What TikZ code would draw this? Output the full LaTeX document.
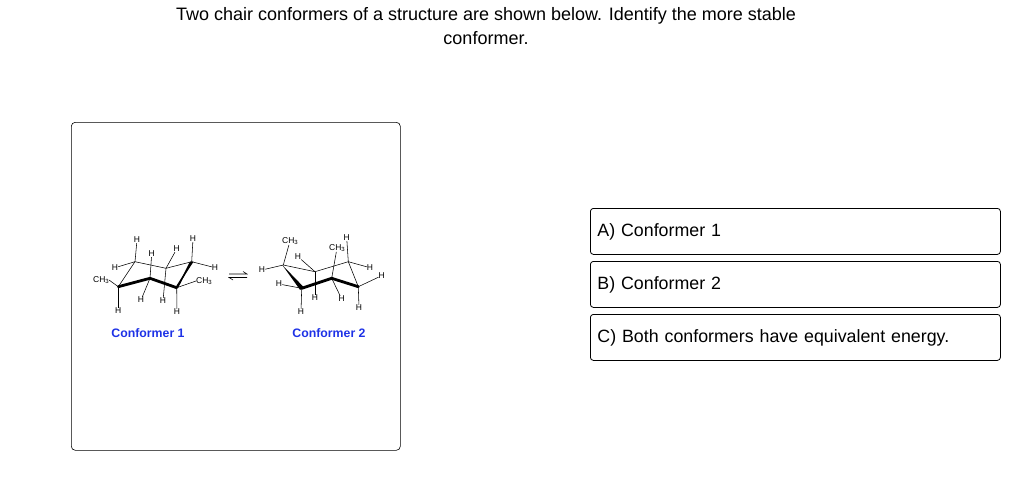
\documentclass[tikz,border=0pt]{standalone}
\usepackage{fontspec}
\setmainfont{Liberation Sans}
\begin{document}
\begin{tikzpicture}[x=1pt,y=-1pt,
  lbl/.style={font=\fontsize{8.5}{9}\selectfont,inner sep=0pt},
  bd/.style={line width=0.55pt},
  bold/.style={line width=2.8pt,line cap=round,line join=round},
  opt/.style={draw,rounded corners=3pt,line width=0.8pt,minimum width=410pt,minimum height=46pt,anchor=north west,text width=396pt,inner xsep=7pt,align=left,font=\fontsize{17.8}{20}\selectfont},
  cf/.style={font=\bfseries\fontsize{12.3}{14}\selectfont,text={rgb,255:red,30;green,50;blue,230}}]
\useasboundingbox (0,0) rectangle (1024,479);
\newcommand{\cht}{CH\raisebox{-1.5pt}{\fontsize{6}{6}\selectfont 3}}
\node[font=\fontsize{18}{24}\selectfont,align=center] (q) at (486,26) {Two chair conformers of a structure are shown below. Identify the more stable\\conformer.};
\node[draw,rounded corners=4pt,line width=0.6pt,minimum width=329pt,minimum height=328pt,anchor=north west] (box) at (71,122) {};
\node[opt] (oa) at (590,208) {A) Conformer 1};
\node[opt] (ob) at (590,261) {B) Conformer 2};
\node[opt] (oc) at (590,314) {C) Both conformers have equivalent energy.};
% conformer 1
\coordinate (c1) at (118.3,286.7); \coordinate (c2) at (150,278.3);
\coordinate (c3) at (176.7,287.7); \coordinate (c4) at (191.7,261.7);
\coordinate (c5) at (166,268.3); \coordinate (c6) at (135,261.7);
\draw[bold] (c1)--(c2)--(c3);
\fill (c3) -- ([xshift=-1.8pt]c4) -- ([xshift=1.8pt]c4) -- cycle;
\fill ([xshift=-1.5pt]c3) -- (c4) -- ([xshift=1.5pt]c3) -- cycle;
\draw[bd] (c4)--(c5)--(c6)--(c1);
\node[lbl] (h1) at (118.3,311) {H}; \node[lbl,anchor=east] (m1) at (109,280) {\cht};
\node[lbl] (h2) at (137,240) {H}; \node[lbl] (h3) at (115,267.7) {H};
\node[lbl] (h4) at (151.7,254) {H}; \node[lbl] (h5) at (141,300) {H};
\node[lbl] (h6) at (176.7,249) {H}; \node[lbl] (h7) at (163,301) {H};
\node[lbl] (h8) at (177,312) {H}; \node[lbl,anchor=west] (m2) at (196,281) {\cht};
\node[lbl] (h9) at (193,239) {H}; \node[lbl] (h10) at (215,267.7) {H};
\draw[bd] (c1)--(m1.east); \draw[bd] (c1)--(h1);
\draw[bd] (c6)--(h2); \draw[bd] (c6)--(h3);
\draw[bd] (c2)--(h4); \draw[bd] (c2)--(h5);
\draw[bd] (c5)--(h6); \draw[bd] (c5)--(h7);
\draw[bd] (c3)--(h8); \draw[bd] (c3)--(m2.west);
\draw[bd] (c4)--(h9); \draw[bd] (c4)--(h10);
% equilibrium arrows
\coordinate (e1) at (229,274); \coordinate (e2) at (247,274);
\coordinate (e3) at (229,277.5); \coordinate (e4) at (247,277.5);
\draw[bd] (e1)--(e2) -- ++(-4,-2.5);
\draw[bd] (e4)--(e3) -- ++(4,2.5);
% conformer 2
\coordinate (a) at (283.3,265); \coordinate (b) at (301.7,288.3);
\coordinate (c) at (331.7,278.3); \coordinate (d) at (358.3,286.7);
\coordinate (e) at (348.3,261.7); \coordinate (f) at (315,271.7);
\fill ([xshift=-1pt]a) -- ([xshift=-1.6pt,yshift=-1.6pt]b) -- ([xshift=2pt,yshift=1.2pt]b) -- cycle;
\draw[bold] (b)--(c)--(d);
\draw[bd] (d)--(e)--(f)--(a);
\node[lbl] (n1) at (290,241) {\cht}; \node[lbl] (n2) at (262,270) {H};
\node[lbl] (n3) at (279,284) {H}; \node[lbl] (n4) at (301,312) {H};
\node[lbl] (n5) at (337,248) {\cht}; \node[lbl] (n6) at (341.7,299) {H};
\node[lbl] (n7) at (381.7,275.7) {H}; \node[lbl] (n8) at (359,308) {H};
\node[lbl] (n9) at (346.7,238) {H}; \node[lbl] (n10) at (370,267.7) {H};
\node[lbl] (n11) at (298,256.7) {H}; \node[lbl] (n12) at (315,297.7) {H};
\draw[bd] (a)--(n1); \draw[bd] (a)--(n2);
\draw[bd] (b)--(n3); \draw[bd] (b)--(n4);
\draw[bd] (c)--(n5); \draw[bd] (c)--(n6);
\draw[bd] (d)--(n7); \draw[bd] (d)--(n8);
\draw[bd] (e)--(n9); \draw[bd] (e)--(n10);
\draw[bd] (f)--(n11); \draw[bd] (f)--(n12);
\node[cf] (l1) at (148,333) {Conformer 1};
\node[cf] (l2) at (329,333) {Conformer 2};
\end{tikzpicture}
\end{document}
